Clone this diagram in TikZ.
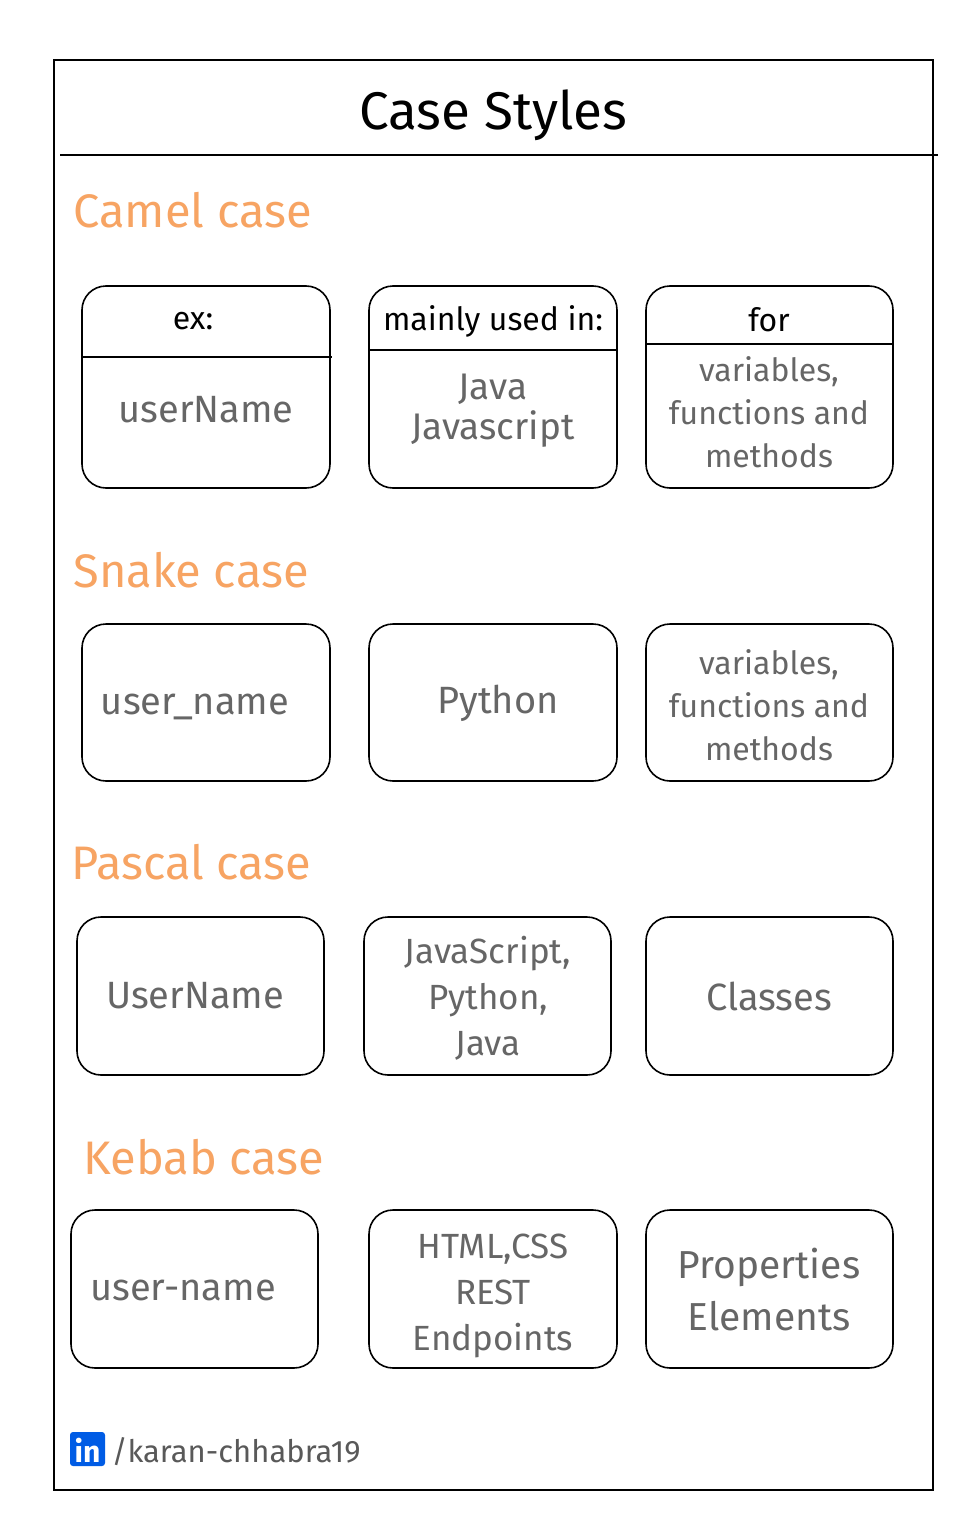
\documentclass[tikz,border=0pt]{standalone}
\usepackage{fontspec}
\setmainfont{Fira Sans}
\begin{document}
\begin{tikzpicture}[x=1pt,y=-1pt,
  box/.style={draw,line width=1.6pt,rounded corners=24pt},
  body/.style={text=black!60,align=center,font=\fontsize{38}{40}\selectfont},
  head/.style={anchor=west,font=\fontsize{47}{50}\selectfont},
  hdr/.style={text=black,font=\fontsize{32}{34}\selectfont}]
\definecolor{camel}{HTML}{F7A463}
\tikzset{head/.append style={text=camel}}
\useasboundingbox (0,0) rectangle (978,1536);
\fill[white] (0,0) rectangle (978,1536);
\draw[line width=1.6pt] (54,60) rectangle (933,1490);
\draw[line width=1.6pt] (60,155) -- (938,155);
\node (title) at (493,115) {\fontsize{53}{56}\selectfont Case Styles};
% headings
\node[head] (h1) at (70,210) {Camel case};
\node[head] (h2) at (70,570) {Snake case};
\node[head] (h3) at (68,862) {Pascal case};
\node[head] (h4) at (80,1157) {Kebab case};
% row 1
\draw[box] (82,286) rectangle (330,488); \draw[line width=1.6pt] (82,357)--(332,357);
\node[hdr] (a1) at (193,321) {ex:};
\node[body] (a2) at (206,410) {userName};
\draw[box] (369,286) rectangle (617,488); \draw[line width=1.6pt] (369,350)--(617,350);
\node[hdr] (b1) at (493,321) {mainly used in:};
\node[body,font=\fontsize{37}{40}\selectfont] (b2) at (493,411) {Java\\Javascript};
\draw[box] (646,286) rectangle (893,488); \draw[line width=1.6pt] (646,344)--(893,344);
\node[hdr] (c1) at (769,320) {for};
\node[body,font=\fontsize{32}{43}\selectfont] (c2) at (769,412) {variables,\\functions and\\methods};
% row 2
\draw[box] (82,624) rectangle (330,781);
\node[body] (d) at (195,707) {user\_name};
\draw[box] (369,624) rectangle (617,781);
\node[body] (e) at (498,703) {Python};
\draw[box] (646,624) rectangle (893,781);
\node[body,font=\fontsize{32}{43}\selectfont] (f) at (769,705) {variables,\\functions and\\methods};
% row 3
\draw[box] (77,917) rectangle (324,1075);
\node[body] (g) at (195,996) {UserName};
\draw[box] (364,917) rectangle (611,1075);
\node[body,font=\fontsize{35}{46}\selectfont] (h) at (488,998) {JavaScript,\\Python,\\Java};
\draw[box] (646,917) rectangle (893,1075);
\node[body] (i) at (769,996) {Classes};
% row 4
\draw[box] (71,1210) rectangle (318,1368);
\node[body] (j) at (183,1290) {user-name};
\draw[box] (369,1210) rectangle (617,1368);
\node[body,font=\fontsize{35}{46}\selectfont] (k) at (493,1296) {HTML,CSS\\REST\\Endpoints};
\draw[box] (646,1210) rectangle (893,1368);
\node[body,font=\fontsize{39}{52}\selectfont] (l) at (769,1290) {Properties\\Elements};
% footer
\fill[blue!60!cyan!90!black,rounded corners=3pt] (70,1432) rectangle (105,1466);
\node[text=white,font=\bfseries\fontsize{30}{30}\selectfont] (li) at (87.5,1450) {in};
\node[anchor=west,text=black!65,font=\fontsize{31}{30}\selectfont] (ft) at (108,1452) {/karan-chhabra19};
\end{tikzpicture}
\end{document}
